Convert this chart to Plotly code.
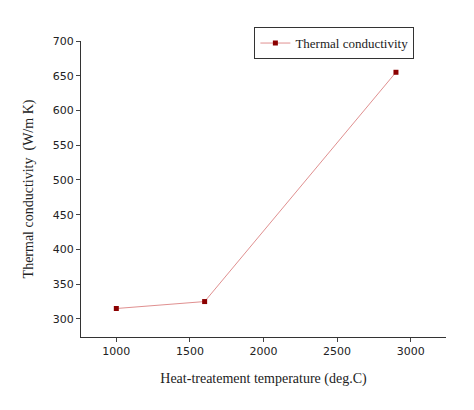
import plotly.graph_objects as go

temps = [1000, 1600, 2900]
conductivity = [315, 325, 655]

fig = go.Figure()
fig.add_trace(go.Scatter(
    x=temps, y=conductivity, mode="lines+markers", name="Thermal conductivity",
    line=dict(color="#e09090", width=1),
    marker=dict(symbol="square", size=5, color="#8b0000"),
))

fig.update_layout(
    width=474, height=410,
    margin=dict(l=73, r=36, t=33, b=81),
    plot_bgcolor="white", paper_bgcolor="white",
    font=dict(family="DejaVu Sans", size=11, color="#222"),
    showlegend=True,
    legend=dict(x=0.475, y=1.047, xanchor="left", yanchor="top",
                bordercolor="#333", borderwidth=1, bgcolor="white",
                font=dict(family="Liberation Serif", size=13)),
)
fig.update_xaxes(
    range=[760, 3240], tickvals=[1000, 1500, 2000, 2500, 3000],
    showline=True, linecolor="#333", ticks="outside", ticklen=4, showgrid=False, zeroline=False,
    title=dict(text="Heat-treatement temperature (deg.C)", font=dict(family="Liberation Serif", size=14)),
)
fig.update_yaxes(
    range=[274, 700], tickvals=[300, 350, 400, 450, 500, 550, 600, 650, 700],
    showline=True, linecolor="#333", ticks="outside", ticklen=4, showgrid=False, zeroline=False,
    title=dict(text="Thermal conductivity  (W/m K)", font=dict(family="Liberation Serif", size=14)),
)

fig.write_html("out.html")
